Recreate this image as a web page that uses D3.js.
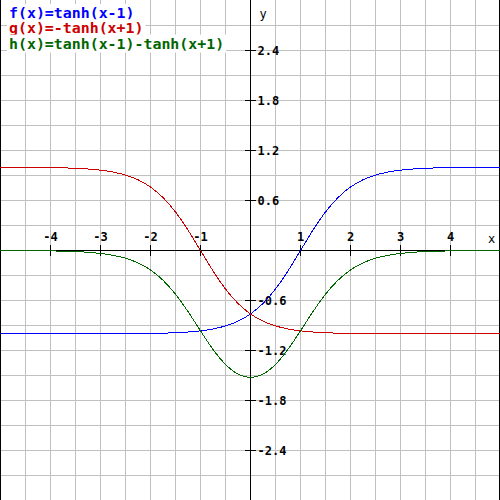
<!DOCTYPE html>
<html>
<head>
<meta charset="utf-8">
<script src="https://cdn.jsdelivr.net/npm/d3@7"></script>
<style>
  html, body { margin: 0; padding: 0; background: #fff; }
  svg { display: block; }
</style>
</head>
<body>
<div id="chart"></div>
<script>
// ---- data ----
const xValues = [-5, -4.75, -4.5, -4.25, -4, -3.75, -3.5, -3.25, -3, -2.75, -2.5, -2.25, -2, -1.75, -1.5, -1.25, -1, -0.75, -0.5, -0.25, 0,
  0.25, 0.5, 0.75, 1, 1.25, 1.5, 1.75, 2, 2.25, 2.5, 2.75, 3, 3.25, 3.5, 3.75, 4, 4.25, 4.5, 4.75, 5];
const fValues = [-1.0000, -1.0000, -1.0000, -0.9999, -0.9999, -0.9999, -0.9998, -0.9996, -0.9993, -0.9989, -0.9982, -0.9970, -0.9951, -0.9918, -0.9866, -0.9780, -0.9640, -0.9414, -0.9051, -0.8483, -0.7616,
  -0.6351, -0.4621, -0.2449, 0, 0.2449, 0.4621, 0.6351, 0.7616, 0.8483, 0.9051, 0.9414, 0.9640, 0.9780, 0.9866, 0.9918, 0.9951, 0.9970, 0.9982, 0.9989, 0.9993];
const gValues = [0.9993, 0.9989, 0.9982, 0.9970, 0.9951, 0.9918, 0.9866, 0.9780, 0.9640, 0.9414, 0.9051, 0.8483, 0.7616, 0.6351, 0.4621, 0.2449, 0, -0.2449, -0.4621, -0.6351, -0.7616,
  -0.8483, -0.9051, -0.9414, -0.9640, -0.9780, -0.9866, -0.9918, -0.9951, -0.9970, -0.9982, -0.9989, -0.9993, -0.9996, -0.9998, -0.9999, -0.9999, -0.9999, -1.0000, -1.0000, -1.0000];
const hValues = [-0.0007, -0.0011, -0.0018, -0.0030, -0.0049, -0.0080, -0.0131, -0.0216, -0.0353, -0.0575, -0.0930, -0.1487, -0.2335, -0.3567, -0.5245, -0.7331, -0.9640, -1.1863, -1.3673, -1.4834, -1.5232,
  -1.4834, -1.3673, -1.1863, -0.9640, -0.7331, -0.5245, -0.3567, -0.2335, -0.1487, -0.0930, -0.0575, -0.0353, -0.0216, -0.0131, -0.0080, -0.0049, -0.0030, -0.0018, -0.0011, -0.0007];
const seriesNames = ["f(x)=tanh(x-1)", "g(x)=-tanh(x+1)", "h(x)=tanh(x-1)-tanh(x+1)"];
const seriesColors = ["#0000ff", "#cc0000", "#006600"];
const xTickValues = [-4, -3, -2, -1, 1, 2, 3, 4];
const yTickValues = [2.4, 1.8, 1.2, 0.6, -0.6, -1.2, -1.8, -2.4];
const xGridValues = [-4.5, -4, -3.5, -3, -2.5, -2, -1.5, -1, -0.5, 0.5, 1, 1.5, 2, 2.5, 3, 3.5, 4, 4.5];
const yGridValues = [2.7, 2.4, 2.1, 1.8, 1.5, 1.2, 0.9, 0.6, 0.3, -0.3, -0.6, -0.9, -1.2, -1.5, -1.8, -2.1, -2.4, -2.7];

// ---- layout ----
const W = 500, H = 500;
const x = d3.scaleLinear().domain([-5, 5]).range([0.5, 500.5]);
const y = d3.scaleLinear().domain([3, -3]).range([0.5, 500.5]);
const fmt = d => String(d);

const svg = d3.select("#chart").append("svg").attr("width", W).attr("height", H);
svg.append("rect").attr("width", W).attr("height", H).attr("fill", "#fff");

// grid
const grid = svg.append("g").attr("stroke", "#c0c0c0").attr("stroke-width", 1).attr("shape-rendering", "crispEdges");
grid.selectAll("line.v").data(xGridValues).join("line").attr("class", "v")
  .attr("x1", d => Math.round(x(d) - 0.5) + 0.5).attr("x2", d => Math.round(x(d) - 0.5) + 0.5).attr("y1", 0).attr("y2", H);
grid.selectAll("line.h").data(yGridValues).join("line").attr("class", "h")
  .attr("y1", d => Math.round(y(d) - 0.5) + 0.5).attr("y2", d => Math.round(y(d) - 0.5) + 0.5).attr("x1", 0).attr("x2", W);

// axes
const axes = svg.append("g").attr("stroke", "#000").attr("stroke-width", 1).attr("shape-rendering", "crispEdges");
axes.append("line").attr("x1", 0).attr("x2", W).attr("y1", y(0)).attr("y2", y(0));
axes.append("line").attr("y1", 0).attr("y2", H).attr("x1", x(0)).attr("x2", x(0));
axes.selectAll("line.xt").data(xTickValues).join("line").attr("class", "xt")
  .attr("x1", d => Math.round(x(d) - 0.5) + 0.5).attr("x2", d => Math.round(x(d) - 0.5) + 0.5)
  .attr("y1", y(0) - 5.5).attr("y2", y(0) + 5.5);
axes.selectAll("line.yt").data(yTickValues).join("line").attr("class", "yt")
  .attr("y1", d => Math.round(y(d) - 0.5) + 0.5).attr("y2", d => Math.round(y(d) - 0.5) + 0.5)
  .attr("x1", x(0) - 5.5).attr("x2", x(0) + 5.5);
// frame edges
axes.append("line").attr("x1", 0.5).attr("x2", 0.5).attr("y1", 0).attr("y2", H);
axes.append("line").attr("x1", W - 0.5).attr("x2", W - 0.5).attr("y1", 0).attr("y2", H);

// tick labels
const labelFont = "'DejaVu Sans Mono', monospace";
svg.append("g").selectAll("text").data(xTickValues).join("text")
  .attr("x", d => x(d)).attr("y", y(0) - 10)
  .attr("text-anchor", "middle").attr("font-family", labelFont).attr("font-weight", "bold")
  .attr("font-size", 12).attr("fill", "#000").text(fmt);
svg.append("g").selectAll("text").data(yTickValues).join("text")
  .attr("x", x(0) + 7).attr("y", d => y(d) + 4.5)
  .attr("text-anchor", "start").attr("font-family", labelFont).attr("font-weight", "bold")
  .attr("font-size", 12).attr("fill", "#000").text(fmt);
svg.append("text").attr("x", x(4.75)).attr("y", y(0) - 8).attr("font-family", labelFont)
  .attr("font-size", 12).attr("fill", "#000").text("x");
svg.append("text").attr("x", x(0) + 9).attr("y", 18).attr("font-family", labelFont)
  .attr("font-size", 12).attr("fill", "#000").text("y");

// curves
const seriesValues = [fValues, gValues, hValues];
const line = d3.line().x((d, i) => x(xValues[i])).y(d => y(d)).curve(d3.curveMonotoneX);
svg.append("g").attr("shape-rendering", "crispEdges").selectAll("path").data(seriesValues).join("path")
  .attr("d", d => line(d)).attr("fill", "none")
  .attr("stroke", (d, i) => seriesColors[i]).attr("stroke-width", 1);

// legend
const legend = svg.append("g");
const rows = legend.selectAll("g").data(seriesNames).join("g")
  .attr("transform", (d, i) => `translate(9, ${18 + i * 15.3})`);
rows.append("text").attr("font-family", labelFont).attr("font-weight", "bold")
  .attr("font-size", 14.9).attr("fill", (d, i) => seriesColors[i]).text(d => d);
rows.each(function () {
  const g = d3.select(this);
  const bb = g.select("text").node().getBBox();
  g.insert("rect", "text").attr("x", bb.x - 2).attr("y", bb.y).attr("width", bb.width + 4).attr("height", bb.height).attr("fill", "#fff");
});
</script>
</body>
</html>
